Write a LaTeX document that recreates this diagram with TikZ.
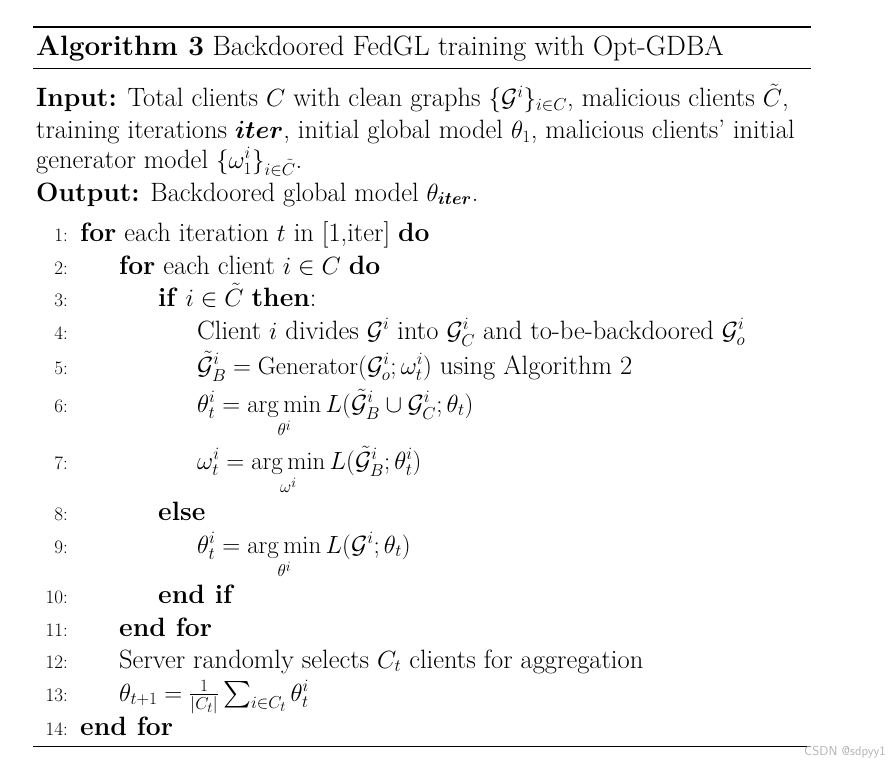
\documentclass[tikz,border=0pt]{standalone}
\usepackage{amsmath,amssymb}
\begin{document}
\begin{tikzpicture}[x=1pt,y=-1pt,
  t/.style={anchor=base west,inner sep=0pt,font=\fontsize{26.5}{30}\selectfont},
  num/.style={anchor=base east,inner sep=0pt,font=\fontsize{19}{22}\selectfont}]
\useasboundingbox (0,0) rectangle (889,765);
\draw[line width=1.6] (33,27) coordinate(a1) -- (811,27) coordinate(a2);
\draw[line width=0.8] (33,68) coordinate(b1) -- (811,68) coordinate(b2);
\draw[line width=0.8] (33,746) coordinate(c1) -- (811,746) coordinate(c2);
\node[t,font=\fontsize{28}{32}\selectfont] (title) at (36,56) {\textbf{Algorithm 3} Backdoored FedGL training with Opt-GDBA};
\node[t] (in1) at (36,107) {\textbf{Input:} Total clients $C$ with clean graphs $\{\mathcal{G}^i\}_{i\in C}$, malicious clients $\tilde{C}$,};
\node[t] (in2) at (36,139) {training iterations $\boldsymbol{iter}$, initial global model $\theta_1$, malicious clients' initial};
\node[t] (in3) at (36,168) {generator model $\{\omega_1^i\}_{i\in\tilde{C}}$.};
\node[t] (out) at (36,201) {\textbf{Output:} Backdoored global model $\theta_{\boldsymbol{iter}}$.};
\foreach \n/\y in {1/241,2/274,3/306,4/339,5/374,6/412,7/469,8/520,9/553,10/603,11/636,12/668,13/701,14/735}
  \node[num] (n\n) at (68,\y) {\n:};
\node[t] (l1) at (80,241) {\textbf{for} each iteration $t$ in [1,iter] \textbf{do}};
\node[t] (l2) at (119,274) {\textbf{for} each client $i\in C$ \textbf{do}};
\node[t] (l3) at (158,306) {\textbf{if} $i\in\tilde{C}$ \textbf{then}:};
\node[t] (l4) at (197,339) {Client $i$ divides $\mathcal{G}^i$ into $\mathcal{G}_C^i$ and to-be-backdoored $\mathcal{G}_o^i$};
\node[t] (l5) at (197,374) {$\tilde{\mathcal{G}}_B^i=\mathrm{Generator}(\mathcal{G}_o^i;\omega_t^i)$ using Algorithm 2};
\node[t] (l6) at (197,412) {$\theta_t^i=\mathop{\arg\min}\limits_{\theta^i} L(\tilde{\mathcal{G}}_B^i\cup\mathcal{G}_C^i;\theta_t)$};
\node[t] (l7) at (197,469) {$\omega_t^i=\mathop{\arg\min}\limits_{\omega^i} L(\tilde{\mathcal{G}}_B^i;\theta_t^i)$};
\node[t] (l8) at (158,520) {\textbf{else}};
\node[t] (l9) at (197,553) {$\theta_t^i=\mathop{\arg\min}\limits_{\theta^i} L(\mathcal{G}^i;\theta_t)$};
\node[t] (l10) at (158,603) {\textbf{end if}};
\node[t] (l11) at (119,636) {\textbf{end for}};
\node[t] (l12) at (119,668) {Server randomly selects $C_t$ clients for aggregation};
\node[t] (l13) at (119,701) {$\theta_{t+1}=\frac{1}{|C_t|}\sum_{i\in C_t}\theta_t^i$};
\node[t] (l14) at (80,735) {\textbf{end for}};
\node[anchor=base east,inner sep=0pt,text=gray!60,font=\sffamily\fontsize{13}{15}\selectfont] (wm) at (886,755) {CSDN @sdpyy1};
\end{tikzpicture}
\end{document}
